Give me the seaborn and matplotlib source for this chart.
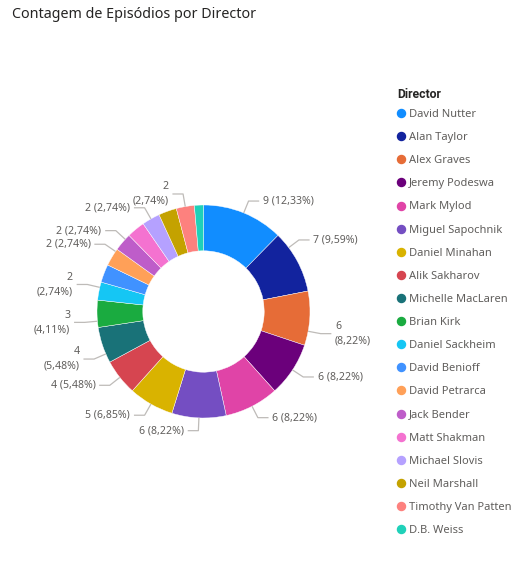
import numpy as np
import matplotlib
matplotlib.use("Agg")
import matplotlib.pyplot as plt
from matplotlib.lines import Line2D
import seaborn as sns

# dados
directors = ["David Nutter", "Alan Taylor", "Alex Graves", "Jeremy Podeswa", "Mark Mylod",
             "Miguel Sapochnik", "Daniel Minahan", "Alik Sakharov", "Michelle MacLaren",
             "Brian Kirk", "Daniel Sackheim", "David Benioff", "David Petrarca", "Jack Bender",
             "Matt Shakman", "Michael Slovis", "Neil Marshall", "Timothy Van Patten", "D.B. Weiss"]
episodes = [9, 7, 6, 6, 6, 6, 5, 4, 4, 3, 2, 2, 2, 2, 2, 2, 2, 2, 1]
colors = ["#118DFF", "#12239E", "#E66C37", "#6B007B", "#E044A7", "#744EC2", "#D9B300",
          "#D64550", "#197278", "#1AAB40", "#15C6F4", "#4092FF", "#FFA058", "#BE5DC9",
          "#F472D0", "#B5A1FF", "#C4A200", "#FD817E", "#1FD1B9"]

# rótulos que o Power BI esconde / quebra em duas linhas
hidden = ["David Benioff", "Matt Shakman", "Neil Marshall", "D.B. Weiss"]
wrapped = ["Alex Graves", "Michelle MacLaren", "Brian Kirk", "Daniel Sackheim", "Timothy Van Patten"]
# pequenos desvios de ângulo (graus) para evitar sobreposição, como no Power BI
nudge = {"Alan Taylor": 8.5, "Alex Graves": -7, "Brian Kirk": 4, "Michelle MacLaren": 5,
         "Daniel Sackheim": -2, "David Petrarca": -3.5, "Jack Bender": -2}

sns.set_theme(style="white")
plt.rcParams["font.family"] = ["Noto Sans", "DejaVu Sans"]

fig = plt.figure(figsize=(5.2, 5.69), dpi=100)
ax = fig.add_axes([0, 0, 1, 1])
palette = sns.color_palette(colors)

wedges, _ = ax.pie(episodes, colors=palette, startangle=90, counterclock=False, radius=1,
                   wedgeprops=dict(width=0.43, edgecolor="white", linewidth=0.3))

scale = 106.5
cx, cy = 203.5, 311.5
ax.set_xlim(-cx / scale, (520 - cx) / scale)
ax.set_ylim((cy - 569) / scale, cy / scale)
ax.set_aspect("auto")
ax.axis("off")

total = sum(episodes)
for name, v, w in zip(directors, episodes, wedges):
    if name in hidden:
        continue
    ang = (w.theta1 + w.theta2) / 2 + nudge.get(name, 0)
    a = np.deg2rad(ang)
    x0, y0 = np.cos(a) * 1.0, np.sin(a) * 1.0
    x1, y1 = np.cos(a) * 1.12, np.sin(a) * 1.12
    side = 1 if np.cos(a) >= 0 else -1
    x2 = x1 + side * 0.1
    ax.plot([x0, x1, x2], [y0, y1, y1], color="#BEBBB8", lw=0.9, solid_capstyle="butt")
    pct = f"{v / total * 100:.2f}".replace(".", ",")
    sep = "\n" if name in wrapped else " "
    ax.text(x2 + side * 0.035, y1, f"{v}{sep}({pct}%)", ha="left" if side > 0 else "right",
            va="center", fontsize=7.6, color="#605E5C",
            multialignment="left" if side > 0 else "right", linespacing=1.45)

fig.text(12 / 520, 1 - 15 / 569, "Contagem de Episódios por Director", fontsize=10.3,
         color="#252423", va="center", ha="left")

handles = [Line2D([], [], marker="o", ls="", markersize=5.8, markerfacecolor=c,
                  markeredgecolor=c) for c in colors]
leg = fig.legend(handles, directors, title="Director", loc="upper left",
                 bbox_to_anchor=(397 / 520, 1 - 88 / 569), frameon=False,
                 fontsize=8.0,
                 title_fontproperties={"family": "Roboto", "weight": "bold", "size": 8.8},
                 handletextpad=0.3, handlelength=0.8,
                 labelspacing=1.09, borderpad=0, borderaxespad=0, alignment="left")
leg._legend_box.sep = 5.8  # título mais perto da primeira entrada
leg.get_title().set_color("#252423")
for t in leg.get_texts():
    t.set_color("#605E5C")

fig.savefig("out.png", dpi=100, facecolor="white")
